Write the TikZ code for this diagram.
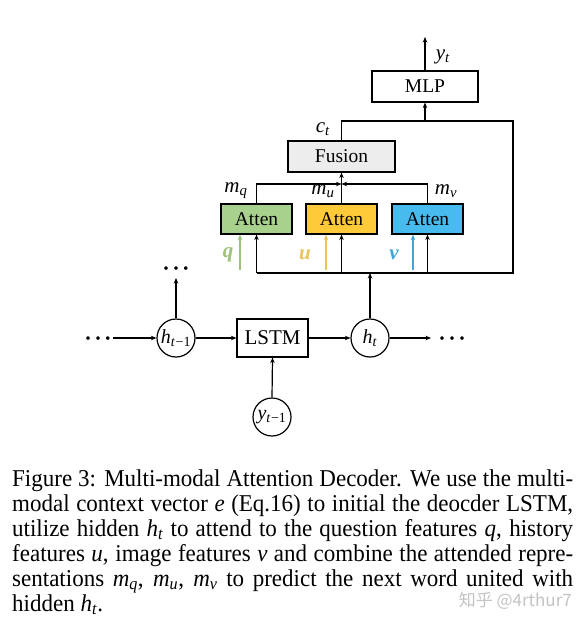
\documentclass[tikz,border=0pt]{standalone}
\usepackage{graphicx}
\usepackage{fontspec}
\setmainfont{Liberation Serif}
\newfontfamily\cjk{Noto Sans CJK SC}
\usetikzlibrary{arrows.meta}
\definecolor{attgreen}{HTML}{A9D18E}
\definecolor{attyellow}{HTML}{FFCA3A}
\definecolor{attblue}{HTML}{47BBEE}
\definecolor{fusiongray}{HTML}{EDEDED}
\definecolor{qcol}{HTML}{9CC27E}
\definecolor{ucol}{HTML}{EAC35A}
\definecolor{vcol}{HTML}{3FA7D6}
\definecolor{wmcol}{HTML}{C4C4C4}
\newcommand{\vi}[1]{\textit{#1}}
\newcommand{\vs}[2]{\textit{#1}\textsubscript{\textit{#2}}}
\begin{document}
\begin{tikzpicture}[x=1pt,y=-1pt,
  box/.style={draw, line width=1.2pt, inner sep=0pt, font=\fontsize{19.5}{22}\selectfont},
  atten/.style={box, minimum width=71pt, minimum height=30pt},
  circ/.style={draw, circle, line width=1.2pt, minimum size=38pt, inner sep=0pt, font=\fontsize{20}{22}\selectfont},
  arr/.style={line width=1.2pt, -{Stealth[length=5.5pt,width=4.5pt]}},
  ln/.style={line width=1.2pt},
  lab/.style={font=\fontsize{21}{23}\selectfont, inner sep=0pt},
  dots/.style={font=\fontsize{30}{32}\selectfont, inner sep=0pt, anchor=base},
  capline/.style={anchor=base west, inner sep=0pt, font=\fontsize{23}{25}\selectfont}]
\useasboundingbox (0,0) rectangle (586,623);
\fill[white] (0,0) rectangle (586,623);

% boxes
\node[box, minimum width=106pt, minimum height=31pt] (mlp) at (425,86.5) {MLP};
\node[box, fill=fusiongray, minimum width=107pt, minimum height=31pt] (fusion) at (341.5,156.5) {Fusion};
\node[atten, fill=attgreen] (attq) at (256.5,219) {Atten};
\node[atten, fill=attyellow] (attu) at (341.5,219) {Atten};
\node[atten, fill=attblue] (attv) at (427.5,219) {Atten};
\node[box, minimum width=71pt, minimum height=38pt, font=\fontsize{21}{24}\selectfont] (lstm) at (272.5,338) {LSTM};
\node[circ] (hp) at (176,338) {\vs{h}{t}\textsubscript{−1}};
\node[circ] (ht) at (370,338) {\vs{h}{t}};
\node[circ] (yp) at (272,417) {\vs{y}{t}\textsubscript{−1}};

% dots
\node[dots] (ld) at (98,348) {···};
\node[dots] (rd) at (452,348) {···};
\node[dots] (ud) at (176,278) {···};
\coordinate (ls) at (113,338);
\coordinate (re) at (431,338);
\coordinate (ue) at (176,278);

% labels
\node[lab] (lyt) at (443,57) {\vs{y}{t}};
\node[lab] (lct) at (323,129) {\vs{c}{t}};
\node[lab] (lmq) at (236,191) {\vs{m}{q}};
\node[lab] (lmu) at (323,191) {\vs{m}{u}};
\node[lab] (lmv) at (446,191) {\vs{m}{v}};
\node[lab, text=qcol] (lq) at (228,255) {\textbf{\textit{q}}};
\node[lab, text=ucol] (lu) at (305,255) {\textbf{\textit{u}}};
\node[lab, text=vcol] (lv) at (394,255) {\textbf{\textit{v}}};

% coordinates
\coordinate (yt) at (425,37);
\coordinate (tr) at (513,121);
\coordinate (br) at (513,273);
\coordinate (bl) at (256.5,273);
\coordinate (mj) at (341.5,184);
\coordinate (qb) at (240,270);
\coordinate (ub) at (326,270);
\coordinate (vb) at (413,270);

% top connectors
\draw[arr] (mlp.north) -- (yt);
\draw[ln] (fusion.north) |- (tr) -- (br) -- (bl);
\draw[arr] (mlp.south |- tr) -- (mlp.south);
\draw[arr] (attq.north) |- (mj);
\draw[arr] (attv.north) |- (mj);
\draw[arr] (attu.north) -- (fusion.south);
\draw[arr] (attq.south |- bl) -- (attq.south);
\draw[arr] (attu.south |- bl) -- (attu.south);
\draw[arr] (attv.south |- bl) -- (attv.south);
\draw[arr, qcol] (qb) -- (qb |- attq.south);
\draw[arr, ucol] (ub) -- (ub |- attu.south);
\draw[arr, vcol] (vb) -- (vb |- attv.south);

% bottom connectors
\draw[arr] (ls) -- (hp.west);
\draw[arr] (hp.east) -- (lstm.west);
\draw[arr] (lstm.east) -- (ht.west);
\draw[arr] (ht.east) -- (re);
\draw[arr] (hp.north) -- (ue);
\draw[arr] (yp.north) -- (lstm.south);
\draw[arr] (ht.north) -- (ht.north |- bl);

% watermark
\node[anchor=base east, inner sep=0pt, text=wmcol, font=\cjk\fontsize{17}{19}\selectfont] (wm) at (572,606) {知乎 @4rthur7};

% caption
\node[capline] (c1) at (12,486) {\scalebox{1}[1.05]{\hbox to 561pt{Figure 3: Multi-modal Attention Decoder. We use the multi-}}};
\node[capline] (c2) at (12,511) {\scalebox{1}[1.05]{\hbox to 561pt{modal context vector \vi{e} (Eq.16) to initial the deocder LSTM,}}};
\node[capline] (c3) at (12,536) {\scalebox{1}[1.05]{\hbox to 561pt{utilize hidden \vs{h}{t} to attend to the question features \vi{q}, history}}};
\node[capline] (c4) at (12,561) {\scalebox{1}[1.05]{\hbox to 561pt{features \vi{u}, image features \vi{v} and combine the attended repre-}}};
\node[capline] (c5) at (12,586) {\scalebox{1}[1.05]{\hbox to 561pt{sentations \vs{m}{q}, \vs{m}{u}, \vs{m}{v} to predict the next word united with}}};
\node[capline] (c6) at (12,611) {\scalebox{1}[1.05]{hidden \vs{h}{t}.}};
\end{tikzpicture}
\end{document}
